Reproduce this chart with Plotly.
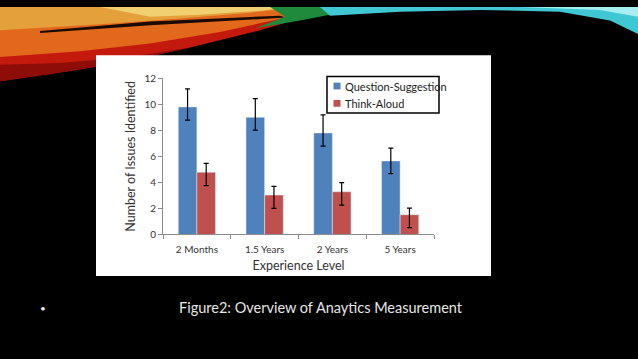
import plotly.graph_objects as go

# ---- data ----
categories = ["2 Months", "1.5 Years", "2 Years", "5 Years"]
series_names = ["Question-Suggestion", "Think-Aloud"]
qs_values = [9.8, 9.0, 7.8, 5.65]
qs_err_plus = [1.39, 1.44, 1.39, 0.99]
qs_err_minus = [1.01, 0.98, 1.01, 0.98]
ta_values = [4.78, 3.03, 3.28, 1.52]
ta_err_plus = [0.68, 0.67, 0.70, 0.50]
ta_err_minus = [1.03, 1.03, 1.03, 1.00]
y_ticks = [0, 2, 4, 6, 8, 10, 12]

W, H = 638, 359
FONT = "Lato"
BLUE = "#4F81BD"
RED = "#C0504D"


def px(x):
    return x / W


def py(y):
    return 1 - y / H


def path(points):
    s = "M " + " L ".join(f"{px(x):.4f},{py(y):.4f}" for x, y in points) + " Z"
    return s


fig = go.Figure()
fig.add_trace(go.Bar(
    x=categories, y=qs_values, name=series_names[0], marker_color=BLUE,
    error_y=dict(type="data", symmetric=False, array=qs_err_plus,
                 arrayminus=qs_err_minus, color="black", thickness=1.2, width=2.5),
))
fig.add_trace(go.Bar(
    x=categories, y=ta_values, name=series_names[1], marker_color=RED,
    error_y=dict(type="data", symmetric=False, array=ta_err_plus,
                 arrayminus=ta_err_minus, color="black", thickness=1.2, width=2.5),
))

shapes = []
# decorative slide swoosh
swoosh = [
    ([(0, 0), (335, 0), (320, 6), (260, 24), (190, 42), (120, 58), (60, 68), (0, 77)], "#c41a0e"),
    ([(0, 60), (60, 58), (130, 52), (190, 42), (120, 58), (60, 68), (0, 77)], "#8e0d08"),
    ([(0, 0), (320, 0), (290, 10), (220, 26), (150, 38), (80, 46), (0, 52)], "#e2691c"),
    ([(0, 0), (300, 0), (250, 6), (180, 12), (100, 18), (0, 24)], "#e4a03a"),
    ([(100, 0), (290, 0), (260, 4), (200, 8), (150, 10)], "#f0d070"),
    ([(40, 25), (150, 15), (280, 9), (286, 11), (150, 19), (40, 27)], "#1a0a00"),
    ([(270, 0), (345, 0), (330, 8), (300, 14), (255, 22), (285, 10)], "#1f8a3c"),
    ([(320, 0), (638, 0), (638, 28), (610, 14), (560, 5), (480, 3), (400, 5), (330, 9)], "#3fc8d4"),
    ([(380, 0), (638, 0), (638, 10), (600, 3), (520, 0)], "#a8eef0"),
]
for pts, col in swoosh:
    shapes.append(dict(type="path", xref="paper", yref="paper", path=path(pts),
                       fillcolor=col, line=dict(width=0), layer="below"))

# white chart panel
shapes.append(dict(type="rect", xref="paper", yref="paper",
                   x0=px(96), x1=px(491), y0=py(279), y1=py(50),
                   fillcolor="white", line=dict(width=0), layer="below"))

# legend box
shapes.append(dict(type="rect", xref="paper", yref="paper",
                   x0=px(327), x1=px(439), y0=py(110), y1=py(72),
                   fillcolor="white", line=dict(color="black", width=1.5)))
annotations = []
for i, (name, col) in enumerate(zip(series_names, [BLUE, RED])):
    yc = 82 + i * 18
    shapes.append(dict(type="rect", xref="paper", yref="paper",
                       x0=px(333.5), x1=px(340.5), y0=py(yc + 3.5), y1=py(yc - 3.5),
                       fillcolor=col, line=dict(width=0)))
    annotations.append(dict(xref="paper", yref="paper", x=px(343), y=py(yc),
                            text=name, showarrow=False, xanchor="left", yanchor="middle",
                            font=dict(family=FONT, size=11, color="#222")))

annotations.append(dict(xref="paper", yref="paper", x=px(321), y=py(312),
                        text="Figure2: Overview of Anaytics Measurement", showarrow=False,
                        xanchor="center", yanchor="middle",
                        font=dict(family=FONT, size=14.5, color="#e6e6e6")))
annotations.append(dict(xref="paper", yref="paper", x=px(43), y=py(312),
                        text="•", showarrow=False, xanchor="center", yanchor="middle",
                        font=dict(family=FONT, size=10, color="#e6e6e6")))

fig.update_layout(
    width=W, height=H,
    margin=dict(l=0, r=0, t=0, b=0),
    paper_bgcolor="black",
    plot_bgcolor="white",
    barmode="group",
    bargap=0.45,
    bargroupgap=0,
    showlegend=False,
    shapes=shapes,
    annotations=annotations,
    font=dict(family=FONT, color="#333"),
    xaxis=dict(
        domain=[px(163), px(434)],
        showline=True, linecolor="#8c8c8c", linewidth=1,
        ticks="outside", tickson="boundaries", ticklen=4, tickcolor="#8c8c8c",
        tickfont=dict(family=FONT, size=10, color="#333"),
        ticklabelstandoff=6,
        showgrid=False,
        title=dict(text="Experience Level", font=dict(family=FONT, size=12.5, color="#333"),
                   standoff=6),
    ),
    yaxis=dict(
        domain=[py(236), py(74)],
        range=[0, 12],
        tickvals=y_ticks,
        showline=True, linecolor="#8c8c8c", linewidth=1,
        ticks="outside", ticklen=4, tickcolor="#8c8c8c",
        tickfont=dict(family=FONT, size=10, color="#333"),
        showgrid=False, zeroline=False,
        title=dict(text="Number of Issues Identified", font=dict(family=FONT, size=12.5, color="#333"),
                   standoff=6),
    ),
)

fig.write_html(
    "out.html",
    config={"displayModeBar": False},
    post_script="document.body.style.margin='0';document.body.style.background='black';",
)
